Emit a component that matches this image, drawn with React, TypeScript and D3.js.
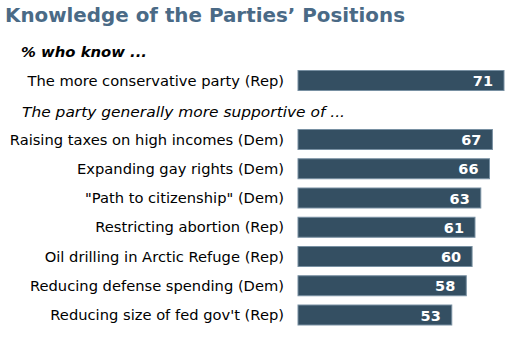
import React, { useEffect, useRef } from 'react';
import * as d3 from 'd3';

const topLabel = 'The more conservative party (Rep)';
const topValue = 71;

const issueLabels = [
  'Raising taxes on high incomes (Dem)',
  'Expanding gay rights (Dem)',
  '"Path to citizenship" (Dem)',
  'Restricting abortion (Rep)',
  'Oil drilling in Arctic Refuge (Rep)',
  'Reducing defense spending (Dem)',
  "Reducing size of fed gov't (Rep)",
];
const issueValues = [67, 66, 63, 61, 60, 58, 53];

const width = 512;
const height = 353;

const App: React.FC = () => {
  const svgRef = useRef<SVGSVGElement>(null);

  useEffect(() => {
    if (!svgRef.current) return;
    const svg = d3.select(svgRef.current);
    svg.selectAll('*').remove();

    const font = 'Verdana, "DejaVu Sans", sans-serif';
    const barFill = '#344f62';
    const barStroke = '#7890a2';
    const barH = 20;

    const x = d3.scaleLinear().domain([0, 71]).range([298, 504]);
    const yIssue = d3
      .scaleLinear()
      .domain([0, issueLabels.length - 1])
      .range([129.5, 129.5 + 29.25 * (issueLabels.length - 1)]);

    const rows = [{ label: topLabel, value: topValue, y: 70.5 }].concat(
      issueLabels.map((label, i) => ({ label, value: issueValues[i], y: yIssue(i) }))
    );

    // Title
    svg
      .append('text')
      .attr('x', 5)
      .attr('y', 22)
      .attr('font-family', font)
      .attr('font-weight', 'bold')
      .attr('font-size', 20)
      .attr('fill', '#4a6a86')
      .attr('textLength', 400)
      .attr('lengthAdjust', 'spacingAndGlyphs')
      .text('Knowledge of the Parties\u2019 Positions');

    svg
      .append('text')
      .attr('x', 21)
      .attr('y', 57)
      .attr('font-family', font)
      .attr('font-weight', 'bold')
      .attr('font-style', 'italic')
      .attr('font-size', 14.5)
      .attr('fill', '#000')
      .attr('textLength', 126)
      .attr('lengthAdjust', 'spacingAndGlyphs')
      .text('% who know ...');

    svg
      .append('text')
      .attr('x', 22)
      .attr('y', 117)
      .attr('font-family', font)
      .attr('font-style', 'italic')
      .attr('font-size', 14.5)
      .attr('fill', '#000')
      .attr('textLength', 323)
      .attr('lengthAdjust', 'spacingAndGlyphs')
      .text('The party generally more supportive of ...');

    const g = svg.append('g');

    g.selectAll('rect.bar')
      .data(rows)
      .enter()
      .append('rect')
      .attr('class', 'bar')
      .attr('x', x(0))
      .attr('y', d => d.y)
      .attr('width', d => x(d.value) - x(0))
      .attr('height', barH)
      .attr('fill', barFill)
      .attr('stroke', barStroke)
      .attr('stroke-width', 1);

    g.selectAll('text.label')
      .data(rows)
      .enter()
      .append('text')
      .attr('class', 'label')
      .attr('x', 284)
      .attr('y', d => d.y + barH / 2 + 5)
      .attr('text-anchor', 'end')
      .attr('font-family', font)
      .attr('font-size', 14.7)
      .attr('fill', '#000')
      .text(d => d.label);

    g.selectAll('text.value')
      .data(rows)
      .enter()
      .append('text')
      .attr('class', 'value')
      .attr('x', d => x(d.value) - 11)
      .attr('y', d => d.y + barH / 2 + 5.5)
      .attr('text-anchor', 'end')
      .attr('font-family', font)
      .attr('font-weight', 'bold')
      .attr('font-size', 14.5)
      .attr('fill', '#fff')
      .text(d => d.value);
  }, []);

  return (
    <svg
      ref={svgRef}
      width={width}
      height={height}
      style={{ position: 'absolute', left: 0, top: 0, background: '#fff' }}
    />
  );
};

export default App;
